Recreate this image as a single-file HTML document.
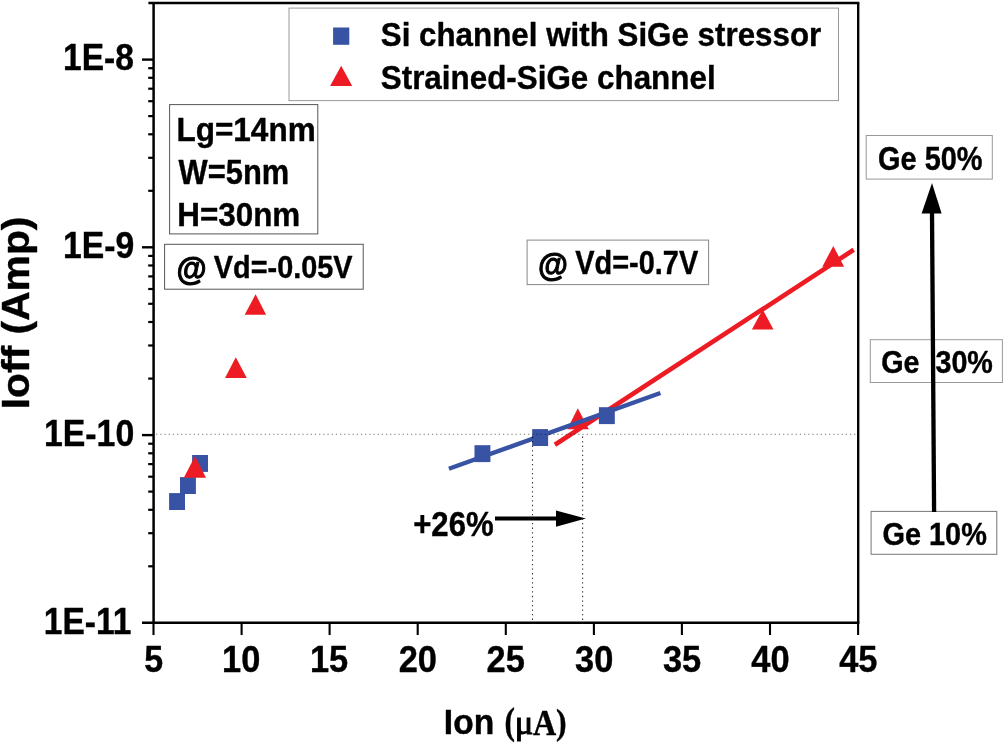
<!DOCTYPE html>
<html><head><meta charset="utf-8"><title>Ioff vs Ion</title>
<style>html,body{margin:0;padding:0;background:#fff}svg{display:block}text{fill:#000}</style></head>
<body>
<svg width="1005" height="745" viewBox="0 0 1005 745">
<rect x="0" y="0" width="1005" height="745" fill="#fff"/>
<rect x="169.1" y="493.1" width="15.9" height="16.9" fill="#3953A4"/>
<rect x="180.0" y="477.1" width="15.9" height="16.9" fill="#3953A4"/>
<rect x="192.1" y="455.0" width="15.9" height="16.9" fill="#3953A4"/>
<polygon points="195.0,456.2 206.0,477.7 183.8,477.7" fill="#ED1C24"/>
<polygon points="235.8,357.3 246.8,378.1 225.0,378.1" fill="#ED1C24"/>
<polygon points="255.6,294.2 266.1,314.7 244.7,314.7" fill="#ED1C24"/>
<polygon points="577.8,408.3 588.8,429.3 567.2,429.3" fill="#ED1C24"/>
<polygon points="762.7,309.6 773.5,329.6 751.9,329.6" fill="#ED1C24"/>
<polygon points="833.3,246.0 844.1,266.7 822.3,266.7" fill="#ED1C24"/>
<line x1="554.9" y1="444.8" x2="853.7" y2="249.8" stroke="#ED1C24" stroke-width="4.6"/>
<rect x="474.5" y="445.2" width="15.9" height="16.9" fill="#3953A4"/>
<rect x="532.2" y="429.1" width="15.9" height="16.9" fill="#3953A4"/>
<rect x="598.9" y="407.2" width="15.9" height="16.9" fill="#3953A4"/>
<line x1="448.9" y1="468.7" x2="660.4" y2="393.0" stroke="#3953A4" stroke-width="4.4"/>
<line x1="156.1" y1="434.3" x2="858.2" y2="434.3" stroke="#000" stroke-opacity="0.55" stroke-width="1.1" stroke-dasharray="1.2 2.98" fill="none"/>
<line x1="532.5" y1="436.6" x2="532.5" y2="622.8" stroke="#000" stroke-opacity="0.8" stroke-width="1.1" stroke-dasharray="1.3 3.25" fill="none"/>
<line x1="582.6" y1="436.6" x2="582.6" y2="622.8" stroke="#000" stroke-opacity="0.8" stroke-width="1.1" stroke-dasharray="1.3 3.25" fill="none"/>
<g stroke="#000" fill="none">
<line x1="153.6" y1="3.0" x2="153.6" y2="622.8" stroke-width="2.5"/>
<line x1="858.2" y1="3.0" x2="858.2" y2="622.8" stroke-width="2.4"/>
<line x1="148.4" y1="3.0" x2="859.4000000000001" y2="3.0" stroke-width="2.6"/>
<line x1="142.0" y1="622.8" x2="859.4000000000001" y2="622.8" stroke-width="2.6"/>
<line x1="142.0" y1="59.6" x2="153.6" y2="59.6" stroke-width="2.4"/>
<line x1="142.0" y1="247.3" x2="153.6" y2="247.3" stroke-width="2.4"/>
<line x1="142.0" y1="435.1" x2="153.6" y2="435.1" stroke-width="2.4"/>
<line x1="148.2" y1="190.8" x2="153.6" y2="190.8" stroke-width="2.2"/>
<line x1="148.2" y1="157.8" x2="153.6" y2="157.8" stroke-width="2.2"/>
<line x1="148.2" y1="134.3" x2="153.6" y2="134.3" stroke-width="2.2"/>
<line x1="148.2" y1="116.1" x2="153.6" y2="116.1" stroke-width="2.2"/>
<line x1="148.2" y1="101.2" x2="153.6" y2="101.2" stroke-width="2.2"/>
<line x1="148.2" y1="88.7" x2="153.6" y2="88.7" stroke-width="2.2"/>
<line x1="148.2" y1="77.8" x2="153.6" y2="77.8" stroke-width="2.2"/>
<line x1="148.2" y1="68.2" x2="153.6" y2="68.2" stroke-width="2.2"/>
<line x1="148.2" y1="378.6" x2="153.6" y2="378.6" stroke-width="2.2"/>
<line x1="148.2" y1="345.5" x2="153.6" y2="345.5" stroke-width="2.2"/>
<line x1="148.2" y1="322.0" x2="153.6" y2="322.0" stroke-width="2.2"/>
<line x1="148.2" y1="303.8" x2="153.6" y2="303.8" stroke-width="2.2"/>
<line x1="148.2" y1="289.0" x2="153.6" y2="289.0" stroke-width="2.2"/>
<line x1="148.2" y1="276.4" x2="153.6" y2="276.4" stroke-width="2.2"/>
<line x1="148.2" y1="265.5" x2="153.6" y2="265.5" stroke-width="2.2"/>
<line x1="148.2" y1="255.9" x2="153.6" y2="255.9" stroke-width="2.2"/>
<line x1="148.2" y1="566.3" x2="153.6" y2="566.3" stroke-width="2.2"/>
<line x1="148.2" y1="533.2" x2="153.6" y2="533.2" stroke-width="2.2"/>
<line x1="148.2" y1="509.8" x2="153.6" y2="509.8" stroke-width="2.2"/>
<line x1="148.2" y1="491.6" x2="153.6" y2="491.6" stroke-width="2.2"/>
<line x1="148.2" y1="476.7" x2="153.6" y2="476.7" stroke-width="2.2"/>
<line x1="148.2" y1="464.1" x2="153.6" y2="464.1" stroke-width="2.2"/>
<line x1="148.2" y1="453.3" x2="153.6" y2="453.3" stroke-width="2.2"/>
<line x1="148.2" y1="443.7" x2="153.6" y2="443.7" stroke-width="2.2"/>
<line x1="153.5" y1="622.8" x2="153.5" y2="635" stroke-width="2.1"/>
<line x1="241.6" y1="622.8" x2="241.6" y2="635" stroke-width="2.1"/>
<line x1="329.6" y1="622.8" x2="329.6" y2="635" stroke-width="2.1"/>
<line x1="417.7" y1="622.8" x2="417.7" y2="635" stroke-width="2.1"/>
<line x1="505.8" y1="622.8" x2="505.8" y2="635" stroke-width="2.1"/>
<line x1="593.9" y1="622.8" x2="593.9" y2="635" stroke-width="2.1"/>
<line x1="681.9" y1="622.8" x2="681.9" y2="635" stroke-width="2.1"/>
<line x1="770.0" y1="622.8" x2="770.0" y2="635" stroke-width="2.1"/>
<line x1="858.1" y1="622.8" x2="858.1" y2="635" stroke-width="2.1"/>
</g>
<text transform="translate(63.00,70.23) scale(0.9027,1)" font-family="'Liberation Sans',sans-serif" font-weight="bold" font-size="37.17" stroke="#000" stroke-width="0.4" stroke-linejoin="round">1E-8</text>
<text transform="translate(62.89,258.13) scale(0.9008,1)" font-family="'Liberation Sans',sans-serif" font-weight="bold" font-size="37.46" stroke="#000" stroke-width="0.4" stroke-linejoin="round">1E-9</text>
<text transform="translate(43.88,445.73) scale(0.9045,1)" font-family="'Liberation Sans',sans-serif" font-weight="bold" font-size="37.46" stroke="#000" stroke-width="0.4" stroke-linejoin="round">1E-10</text>
<text transform="translate(43.81,633.80) scale(0.9031,1)" font-family="'Liberation Sans',sans-serif" font-weight="bold" font-size="37.09" stroke="#000" stroke-width="0.4" stroke-linejoin="round">1E-11</text>
<text transform="translate(144.13,672.43) scale(0.9175,1)" font-family="'Liberation Sans',sans-serif" font-weight="bold" font-size="37.03" stroke="#000" stroke-width="0.4" stroke-linejoin="round">5</text>
<text transform="translate(222.11,672.43) scale(0.9285,1)" font-family="'Liberation Sans',sans-serif" font-weight="bold" font-size="37.03" stroke="#000" stroke-width="0.4" stroke-linejoin="round">10</text>
<text transform="translate(309.96,672.43) scale(0.9286,1)" font-family="'Liberation Sans',sans-serif" font-weight="bold" font-size="37.03" stroke="#000" stroke-width="0.4" stroke-linejoin="round">15</text>
<text transform="translate(398.72,672.43) scale(0.9288,1)" font-family="'Liberation Sans',sans-serif" font-weight="bold" font-size="37.03" stroke="#000" stroke-width="0.4" stroke-linejoin="round">20</text>
<text transform="translate(486.58,672.43) scale(0.9289,1)" font-family="'Liberation Sans',sans-serif" font-weight="bold" font-size="37.03" stroke="#000" stroke-width="0.4" stroke-linejoin="round">25</text>
<text transform="translate(575.09,672.43) scale(0.9289,1)" font-family="'Liberation Sans',sans-serif" font-weight="bold" font-size="37.03" stroke="#000" stroke-width="0.4" stroke-linejoin="round">30</text>
<text transform="translate(662.94,672.43) scale(0.9290,1)" font-family="'Liberation Sans',sans-serif" font-weight="bold" font-size="37.03" stroke="#000" stroke-width="0.4" stroke-linejoin="round">35</text>
<text transform="translate(751.36,672.43) scale(0.9290,1)" font-family="'Liberation Sans',sans-serif" font-weight="bold" font-size="37.03" stroke="#000" stroke-width="0.4" stroke-linejoin="round">40</text>
<text transform="translate(839.22,672.43) scale(0.9291,1)" font-family="'Liberation Sans',sans-serif" font-weight="bold" font-size="37.03" stroke="#000" stroke-width="0.4" stroke-linejoin="round">45</text>
<rect x="289" y="8.1" width="549.5" height="92.5" fill="#fff" stroke="#999" stroke-width="1"/>
<rect x="333.1" y="27.5" width="16.2" height="17.3" fill="#3953A4"/>
<polygon points="341.2,65.7 352.2,86.0 330.1,86.0" fill="#ED1C24"/>
<text transform="translate(380.76,46.06) scale(0.9200,1)" font-family="'Liberation Sans',sans-serif" font-weight="bold" font-size="34.06" stroke="#000" stroke-width="0.4" stroke-linejoin="round">Si channel with SiGe stressor</text>
<text transform="translate(380.76,88.76) scale(0.9215,1)" font-family="'Liberation Sans',sans-serif" font-weight="bold" font-size="34.06" stroke="#000" stroke-width="0.4" stroke-linejoin="round">Strained-SiGe channel</text>
<rect x="169.6" y="104.6" width="148.2" height="129.3" fill="#fff" stroke="#555" stroke-width="1"/>
<text transform="translate(176.47,141.00) scale(0.9420,1)" font-family="'Liberation Sans',sans-serif" font-weight="bold" font-size="33.45" stroke="#000" stroke-width="0.4" stroke-linejoin="round">Lg=14nm</text>
<text transform="translate(178.52,184.20) scale(0.9043,1)" font-family="'Liberation Sans',sans-serif" font-weight="bold" font-size="34.18" stroke="#000" stroke-width="0.4" stroke-linejoin="round">W=5nm</text>
<text transform="translate(177.28,226.30) scale(0.9385,1)" font-family="'Liberation Sans',sans-serif" font-weight="bold" font-size="33.45" stroke="#000" stroke-width="0.4" stroke-linejoin="round">H=30nm</text>
<rect x="164.6" y="244.3" width="198.6" height="44.9" fill="#fff" stroke="#555" stroke-width="1"/>
<text transform="translate(176.42,279.55) scale(0.9284,1)" font-family="'Liberation Sans',sans-serif" font-weight="bold" font-size="33.31" stroke="#000" stroke-width="1.0" stroke-linejoin="round">@</text>
<text transform="translate(213.78,278.10) scale(0.9025,1)" font-family="'Liberation Sans',sans-serif" font-weight="bold" font-size="32.00" stroke="#000" stroke-width="0.4" stroke-linejoin="round">Vd=-0.05V</text>
<rect x="527.1" y="240.1" width="181.5" height="44.5" fill="#fff" stroke="#888" stroke-width="1"/>
<text transform="translate(537.93,275.55) scale(0.9215,1)" font-family="'Liberation Sans',sans-serif" font-weight="bold" font-size="33.31" stroke="#000" stroke-width="1.0" stroke-linejoin="round">@</text>
<text transform="translate(575.18,274.40) scale(0.8927,1)" font-family="'Liberation Sans',sans-serif" font-weight="bold" font-size="32.44" stroke="#000" stroke-width="0.4" stroke-linejoin="round">Vd=-0.7V</text>
<rect x="866.2" y="135.5" width="126.1" height="43.6" fill="#fff" stroke="#999" stroke-width="1"/>
<text transform="translate(878.04,169.67) scale(0.8820,1)" font-family="'Liberation Sans',sans-serif" font-weight="bold" font-size="32.79" stroke="#000" stroke-width="0.4" stroke-linejoin="round">Ge 50%</text>
<rect x="870.3" y="339.7" width="132.1" height="42.8" fill="#fff" stroke="#999" stroke-width="1"/>
<text transform="translate(881.15,372.98) scale(0.8916,1)" font-family="'Liberation Sans',sans-serif" font-weight="bold" font-size="32.23" stroke="#000" stroke-width="0.4" stroke-linejoin="round">Ge  30%</text>
<rect x="871.1" y="511.4" width="125.7" height="42.9" fill="#fff" stroke="#777" stroke-width="1"/>
<text transform="translate(882.44,544.69) scale(0.9208,1)" font-family="'Liberation Sans',sans-serif" font-weight="bold" font-size="31.38" stroke="#000" stroke-width="0.4" stroke-linejoin="round">Ge 10%</text>
<line x1="932.0" y1="212" x2="934.1" y2="511.9" stroke="#000" stroke-width="4.3"/>
<polygon points="932,183 941.6,213.5 921.6,213.5" fill="#000"/>
<text transform="translate(413.18,535.60) scale(0.9089,1)" font-family="'Liberation Sans',sans-serif" font-weight="bold" font-size="34.27" stroke="#000" stroke-width="0.4" stroke-linejoin="round">+26%</text>
<line x1="495.0" y1="518.5" x2="557" y2="518.5" stroke="#000" stroke-width="3.8"/>
<polygon points="585.8,518.6 556.0,510.6 556.0,526.7" fill="#000"/>
<text transform="translate(443.83,733.60) scale(0.9404,1)" font-family="'Liberation Sans',sans-serif" font-weight="bold" font-size="35.78" stroke="#000" stroke-width="0.4" stroke-linejoin="round">Ion</text>
<text transform="translate(504.49,734.09) scale(0.8423,1)" font-family="'Liberation Serif',sans-serif" font-weight="bold" font-size="37.25" stroke="#000" stroke-width="0.4" stroke-linejoin="round">(</text>
<text transform="translate(514.72,734.40) scale(1.0364,1)" font-family="'Liberation Serif',sans-serif" font-weight="normal" font-size="33.48" stroke="#000" stroke-width="1.0">μ</text>
<text transform="translate(533.08,734.60) scale(0.9043,1)" font-family="'Liberation Serif',sans-serif" font-weight="bold" font-size="35.61" stroke="#000" stroke-width="0.4" stroke-linejoin="round">A</text>
<text transform="translate(556.07,734.38) scale(0.8652,1)" font-family="'Liberation Serif',sans-serif" font-weight="bold" font-size="36.80" stroke="#000" stroke-width="0.4" stroke-linejoin="round">)</text>
<text transform="translate(29.30,409.26) rotate(-90) scale(1.0760,1)" font-family="'Liberation Sans',sans-serif" font-weight="bold" font-size="37.96" stroke="#000" stroke-width="0.4" stroke-linejoin="round">Ioff (Amp)</text>
</svg>
</body></html>
